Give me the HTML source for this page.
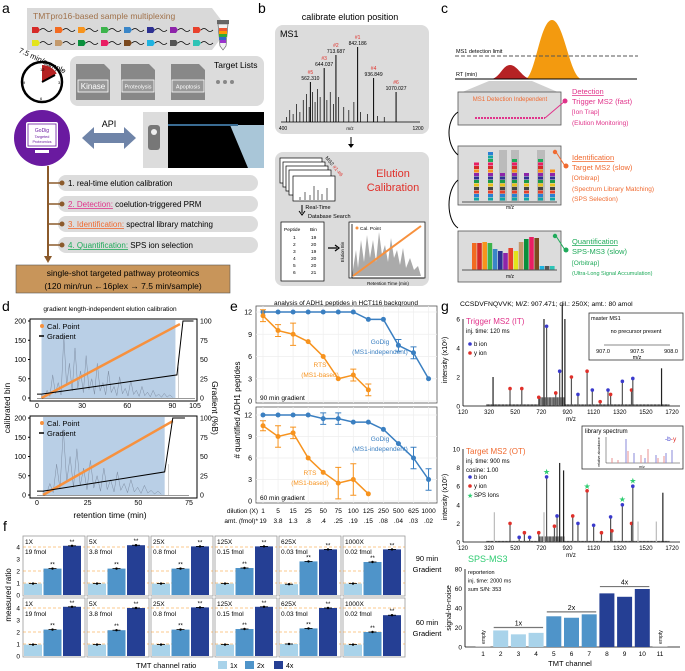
<!DOCTYPE html>
<html><head><meta charset="utf-8">
<style>
html,body{margin:0;padding:0;background:#fff;}
svg{display:block;font-family:"Liberation Sans",sans-serif;}
</style></head>
<body>
<svg id="fig" width="685" height="671" viewBox="0 0 685 671" xmlns="http://www.w3.org/2000/svg">
<g>
<text x="2" y="13" font-size="14">a</text>
<path d="M27,8 L212,8 L228,29 L212,50 L27,50 Z" fill="#d9d9d9"/>
<text x="33" y="19" font-size="8.5" fill="#a0714a">TMTpro16-based sample multiplexing</text>
<g id="tags"></g>
<g><rect x="217" y="20" width="12" height="4" fill="#666"/><path d="M218,24 L228,24 L226,46 L223,50 L220,46 Z" fill="#f0f0f0" stroke="#555" stroke-width="0.6"/><rect x="219" y="28" width="8" height="3" fill="#e53"/><rect x="219" y="31" width="8" height="3" fill="#f90"/><rect x="219" y="34" width="8" height="3" fill="#3a3"/><rect x="219" y="37" width="7" height="3" fill="#36c"/><rect x="220" y="40" width="6" height="3" fill="#93c"/></g>
<g><circle cx="42" cy="82" r="20" fill="#fff" stroke="#000" stroke-width="2.5"/><path d="M42,82 L42,65 A17,17 0 0 1 56.7,73.5 Z" fill="#b52020"/><line x1="42" y1="82" x2="55" y2="75" stroke="#000" stroke-width="2"/><text x="40" y="71" font-size="4">12</text><text x="58" y="84" font-size="4">3</text><text x="40" y="100" font-size="4">6</text><text x="23" y="84" font-size="4">9</text></g>
<text x="17" y="62" font-size="7.5" transform="rotate(25 40 60)">7.5 min/sample</text>
<rect x="70" y="56" width="194" height="50" rx="8" fill="#dcdcdc"/>
<text x="214" y="68" font-size="8.5">Target Lists</text>
<circle cx="218" cy="82" r="2" fill="#888"/><circle cx="225" cy="82" r="2" fill="#888"/><circle cx="232" cy="82" r="2" fill="#888"/>
<g><path d="M76,64 L104,64 L110,70 L110,100 L76,100 Z" fill="#888"/><rect x="78" y="80" width="30" height="12" fill="#999" stroke="#fff" stroke-width="0.8"/><text x="93" y="89" font-size="8" fill="#fff" text-anchor="middle">Kinase</text></g>
<g><path d="M121,64 L149,64 L155,70 L155,100 L121,100 Z" fill="#888"/><rect x="122" y="80" width="32" height="12" fill="#999" stroke="#fff" stroke-width="0.8"/><text x="138" y="88.5" font-size="5.5" fill="#fff" text-anchor="middle">Proteolysis</text></g>
<g><path d="M171,64 L199,64 L205,70 L205,100 L171,100 Z" fill="#888"/><rect x="172" y="80" width="32" height="12" fill="#999" stroke="#fff" stroke-width="0.8"/><text x="188" y="88.5" font-size="5.5" fill="#fff" text-anchor="middle">Apoptosis</text></g>
<g><circle cx="42" cy="138" r="28" fill="#6a1aa0"/><rect x="26" y="122" width="32" height="26" fill="#fff" rx="2"/><rect x="28" y="124" width="28" height="22" fill="none" stroke="#6a1aa0" stroke-width="0.8"/><text x="42" y="132" font-size="5" fill="#6a1aa0" text-anchor="middle">GoDig</text><text x="42" y="138" font-size="3.8" fill="#6a1aa0" text-anchor="middle">Targeted</text><text x="42" y="143" font-size="3.8" fill="#6a1aa0" text-anchor="middle">Proteomics</text><rect x="35" y="150" width="14" height="3" fill="#fff"/></g>
<path d="M82,138 L94,127 L94,133 L124,133 L124,127 L136,138 L124,149 L124,143 L94,143 L94,149 Z" fill="#6f84a8"/>
<text x="109" y="127" font-size="9" text-anchor="middle">API</text>
<g><rect x="143" y="112" width="121" height="56" fill="#dcdcdc"/><rect x="148" y="125" width="12" height="25" rx="3" fill="#777"/><circle cx="154" cy="132" r="3" fill="#eee"/><rect x="168" y="112" width="96" height="56" fill="#000"/><path d="M230,125 L264,125 L264,168 L248,168 Z" fill="#a9c6d8"/><rect x="168" y="124" width="70" height="2" fill="#3a6c93"/></g>
<line x1="48" y1="166" x2="48" y2="258" stroke="#8b5a2b" stroke-width="2"/>
<path d="M44,256 L52,256 L48,263 Z" fill="#8b5a2b"/>
<g>
<rect x="58" y="175" width="200" height="16" rx="8" fill="#dcdcdc"/><line x1="48" y1="183" x2="62" y2="183" stroke="#8b5a2b" stroke-width="1.5"/><circle cx="62" cy="183" r="2.5" fill="#8b5a2b"/>
<text x="68" y="186" font-size="8">1. real-time elution calibration</text>
<rect x="58" y="196" width="200" height="16" rx="8" fill="#dcdcdc"/><line x1="48" y1="204" x2="62" y2="204" stroke="#8b5a2b" stroke-width="1.5"/><circle cx="62" cy="204" r="2.5" fill="#8b5a2b"/>
<text x="68" y="207" font-size="8"><tspan fill="#e0338a" text-decoration="underline">2. Detection:</tspan> coelution-triggered PRM</text>
<rect x="58" y="216" width="200" height="16" rx="8" fill="#dcdcdc"/><line x1="48" y1="224" x2="62" y2="224" stroke="#8b5a2b" stroke-width="1.5"/><circle cx="62" cy="224" r="2.5" fill="#8b5a2b"/>
<text x="68" y="227" font-size="8"><tspan fill="#f06a30" text-decoration="underline">3. Identification:</tspan> spectral library matching</text>
<rect x="58" y="237" width="200" height="16" rx="8" fill="#dcdcdc"/><line x1="48" y1="245" x2="62" y2="245" stroke="#8b5a2b" stroke-width="1.5"/><circle cx="62" cy="245" r="2.5" fill="#8b5a2b"/>
<text x="68" y="248" font-size="8"><tspan fill="#1faa5a" text-decoration="underline">4. Quantification:</tspan> SPS ion selection</text>
</g>
<rect x="16" y="265" width="214" height="28" fill="#c8955a" stroke="#555" stroke-width="0.6"/>
<text x="123" y="276" font-size="8.5" text-anchor="middle">single-shot targeted pathway proteomics</text>
<text x="123" y="289" font-size="8.5" text-anchor="middle">(120 min/run ←16plex → 7.5 min/sample)</text>
</g>

<g>
<text x="258" y="13" font-size="14">b</text>
<text x="350" y="20" font-size="9" text-anchor="middle">calibrate elution position</text>
<rect x="275" y="25" width="154" height="109" rx="8" fill="#dcdcdc"/>
<text x="280" y="37" font-size="9">MS1</text>
<g id="ms1spec"></g>
<text x="283" y="130" font-size="5" text-anchor="middle">400</text><text x="418" y="130" font-size="5" text-anchor="middle">1200</text><text x="350" y="130" font-size="4.5" text-anchor="middle">m/z</text>
<line x1="351" y1="137" x2="351" y2="146" stroke="#000" stroke-width="1"/><path d="M348,144 L354,144 L351,148 Z"/>
<rect x="275" y="152" width="154" height="134" rx="8" fill="#dcdcdc"/>
<text x="393" y="177" font-size="11" fill="#e0302a" text-anchor="middle">Elution</text>
<text x="393" y="191" font-size="11" fill="#e0302a" text-anchor="middle">Calibration</text>
<g>
<rect x="280" y="158" width="42" height="25" fill="#fff" stroke="#000" stroke-width="0.7"/>
<rect x="283" y="162" width="42" height="25" fill="#fff" stroke="#000" stroke-width="0.7"/>
<rect x="286" y="166" width="42" height="25" fill="#fff" stroke="#000" stroke-width="0.7"/>
<rect x="289" y="170" width="42" height="25" fill="#fff" stroke="#000" stroke-width="0.7"/>
<rect x="293" y="176" width="42" height="25" fill="#fff" stroke="#000" stroke-width="0.7"/>
<path d="M300,200 v-3 M305,200 v-8 M310,200 v-5 M314,200 v-14 M318,200 v-10 M322,200 v-6 M327,200 v-12" stroke="#666" stroke-width="1"/>
<text x="325" y="158" font-size="5" transform="rotate(50 325 158)">MS2 <tspan fill="#e0302a">#1-#6</tspan></text>
</g>
<text x="318" y="209" font-size="5.5" text-anchor="middle">Real-Time</text>
<text x="308" y="218" font-size="5.5">Database Search</text>
<path d="M302,205 v8 M299,211 L302,215 L305,211" stroke="#000" fill="none"/>
<g>
<rect x="281" y="222" width="43" height="59" fill="#fff" stroke="#000" stroke-width="0.7"/>
<text x="284" y="231" font-size="4.8">Peptide</text><text x="310" y="231" font-size="4.8">Bin</text>
<text x="293" y="239" font-size="4.8">1</text><text x="311" y="239" font-size="4.8">19</text>
<text x="293" y="246" font-size="4.8">2</text><text x="311" y="246" font-size="4.8">20</text>
<text x="293" y="253" font-size="4.8">3</text><text x="311" y="253" font-size="4.8">19</text>
<text x="293" y="260" font-size="4.8">4</text><text x="311" y="260" font-size="4.8">20</text>
<text x="293" y="267" font-size="4.8">5</text><text x="311" y="267" font-size="4.8">20</text>
<text x="293" y="274" font-size="4.8">6</text><text x="311" y="274" font-size="4.8">21</text>
</g>
<path d="M328,248 L337,248 M335,245 L339,248 L335,251" stroke="#000" fill="none" stroke-width="1.2"/>
<g>
<rect x="349" y="222" width="76" height="56" fill="#fff" stroke="#000" stroke-width="0.7"/>
<path d="M352,276 L356,250 L358,268 L361,240 L364,262 L367,235 L370,258 L373,240 L376,262 L379,232 L382,255 L385,245 L388,262 L391,238 L394,258 L397,250 L400,265 L403,248 L406,268 L410,258 L414,270 L418,266 L421,276 Z" fill="#aaa"/>
<line x1="353" y1="276" x2="421" y2="226" stroke="#f7913e" stroke-width="2"/>
<circle cx="357" cy="228" r="1.5" fill="#f7913e"/><text x="360" y="230" font-size="4.8">Cal. Point</text>
<path d="M352,278 L352,224 M352,278 L424,278" stroke="#000" stroke-width="0.8"/>
<text x="344" y="252" font-size="4.3" transform="rotate(-90 344 252)" text-anchor="middle">Elution Bin</text>
<text x="388" y="285" font-size="4.5" text-anchor="middle">Retention Time (min)</text>
</g>
</g>

<g>
<text x="441" y="13" font-size="14">c</text>
<path d="M525,79 C535,79 540,20 552,20 C564,20 570,79 582,79 Z" fill="#f39a0f"/>
<path d="M490,79 C500,79 502,65 510,65 C518,65 522,79 532,79 Z" fill="#b52224"/>
<line x1="455" y1="56" x2="638" y2="56" stroke="#555" stroke-dasharray="4,2" stroke-width="1"/>
<line x1="455" y1="79" x2="637" y2="79" stroke="#000" stroke-width="1"/>
<text x="456" y="53" font-size="5.5">MS1 detection limit</text>
<text x="456" y="76" font-size="5.5">RT (min)</text>
<path d="M510,81 v8 M507,87 L510,91 L513,87" stroke="#000" fill="none" stroke-width="1"/>
<path d="M489,81 L532,81 L560,93 L460,93 Z" fill="#d0d0d0"/>
<rect x="458" y="92" width="103" height="33" fill="#dcdcdc" stroke="#555" stroke-width="0.8"/>
<text x="510" y="101" font-size="6" fill="#f06a30" text-anchor="middle">MS1 Detection Independent</text>
<line x1="475" y1="118" x2="545" y2="118" stroke="#e0338a" stroke-width="2" stroke-dasharray="2,1"/>
<line x1="545" y1="118" x2="565" y2="101" stroke="#e0338a"/><circle cx="565" cy="101" r="2.5" fill="#e0338a"/>
<g font-size="7.5" fill="#e0338a"><text x="572" y="94" text-decoration="underline">Detection</text><text x="572" y="104">Trigger MS2 (fast)</text><text x="572" y="114" font-size="6.5">[Ion Trap]</text><text x="572" y="125" font-size="6.5">(Elution Monitoring)</text></g>
<rect x="458" y="146" width="103" height="59" fill="#dcdcdc" stroke="#555" stroke-width="0.8"/>
<g id="idbars"></g>
<line x1="462" y1="202" x2="557" y2="202" stroke="#555"/><text x="510" y="209" font-size="5" text-anchor="middle">m/z</text>
<line x1="556" y1="152" x2="565" y2="166" stroke="#f06a30"/><circle cx="555" cy="152" r="2.2" fill="#f06a30"/><circle cx="566" cy="166" r="2.5" fill="#f06a30"/>
<g font-size="7.5" fill="#f06a30"><text x="572" y="160" text-decoration="underline">Identification</text><text x="572" y="170">Target MS2 (slow)</text><text x="572" y="180" font-size="6.5">[Orbitrap]</text><text x="572" y="191" font-size="6.5">(Spectrum Library Matching)</text><text x="572" y="201" font-size="6.5">(SPS Selection)</text></g>
<rect x="458" y="231" width="103" height="51" fill="#dcdcdc" stroke="#555" stroke-width="0.8"/>
<g id="qbars"></g>
<line x1="462" y1="270" x2="557" y2="270" stroke="#555"/><text x="510" y="278" font-size="5" text-anchor="middle">m/z</text>
<line x1="556" y1="236" x2="565" y2="250" stroke="#1faa5a"/><circle cx="555" cy="236" r="2.2" fill="#1faa5a"/><circle cx="566" cy="250" r="2.5" fill="#1faa5a"/>
<g font-size="7.5" fill="#1faa5a"><text x="572" y="244" text-decoration="underline">Quantification</text><text x="572" y="254">SPS-MS3 (slow)</text><text x="572" y="265" font-size="6.5">[Orbitrap]</text><text x="572" y="275" font-size="5.5">(Ultra-Long Signal Accumulation)</text></g>
<path d="M458,112 C446,120 446,145 458,155 M458,180 C446,190 446,220 458,228" stroke="#000" fill="none" stroke-width="1"/>
</g>

<g>
<text x="2" y="311" font-size="14">d</text>
<text x="110" y="311" font-size="6.5" text-anchor="middle">gradient length-independent elution calibration</text>
<g id="dplots"></g>
<text x="110" y="518" font-size="8.5" text-anchor="middle">retention time (min)</text>
<text x="10" y="408" font-size="8.5" text-anchor="middle" transform="rotate(-90 10 408)">calibrated bin</text>
<text x="212" y="408" font-size="8.5" text-anchor="middle" transform="rotate(90 212 408)">Gradient (%B)</text>
</g>

<g>
<text x="230" y="311" font-size="14">e</text>
<text x="346" y="305" font-size="6.5" text-anchor="middle">analysis of ADH1 peptides in HCT116 background</text>
<g id="eplots"></g>
<text x="240" y="410" font-size="8" text-anchor="middle" transform="rotate(-90 240 410)"># quantified ADH1 peptides</text>
</g>

<g>
<text x="3" y="531" font-size="14">f</text>
<g id="fplots"></g>
<text x="11" y="595" font-size="8" text-anchor="middle" transform="rotate(-90 11 595)">measured ratio</text>
<text x="427" y="561" font-size="7.5" text-anchor="middle">90 min</text><text x="427" y="572" font-size="7.5" text-anchor="middle">Gradient</text>
<text x="427" y="625" font-size="7.5" text-anchor="middle">60 min</text><text x="427" y="636" font-size="7.5" text-anchor="middle">Gradient</text>
<g>
<text x="136" y="668" font-size="7.5">TMT channel ratio</text>
<rect x="218" y="661" width="9" height="8" fill="#a9d3ea"/><text x="230" y="668" font-size="7">1x</text>
<rect x="245" y="661" width="9" height="8" fill="#4f94c9"/><text x="257" y="668" font-size="7">2x</text>
<rect x="274" y="661" width="9" height="8" fill="#253f94"/><text x="286" y="668" font-size="7">4x</text>
</g>
</g>

<g>
<text x="441" y="311" font-size="14">g</text>
<text x="460" y="306" font-size="6.8">CCSDVFNQVVK; M/Z: 907.471; dil.: 250X; amt.: 80 amol</text>
<g id="gplots"></g>
<g>
<rect x="589" y="313" width="94" height="47" fill="#fff" stroke="#333" stroke-width="0.8"/>
<text x="591" y="320" font-size="5.5">master MS1</text>
<text x="636" y="333" font-size="5.5" text-anchor="middle">no precursor present</text>
<line x1="604" y1="345" x2="670" y2="345" stroke="#888"/>
<text x="603" y="353" font-size="5.5" text-anchor="middle">907.0</text><text x="637" y="353" font-size="5.5" text-anchor="middle">907.5</text><text x="671" y="353" font-size="5.5" text-anchor="middle">908.0</text>
<text x="637" y="359" font-size="5.5" text-anchor="middle">m/z</text>
</g>
<g>
<rect x="582" y="426" width="101" height="43" fill="#fff" stroke="#333" stroke-width="0.8"/>
<text x="585" y="433" font-size="6">library spectrum</text>
<text x="665" y="441" font-size="6.5"><tspan fill="#3a3acc">-b</tspan><tspan fill="#e0302a">-y</tspan></text>
<line x1="606" y1="437" x2="606" y2="463" stroke="#333" stroke-width="0.5"/>
<line x1="606" y1="463" x2="680" y2="463" stroke="#333" stroke-width="0.5"/>
<path d="M612,463 v-5 M618,463 v-3 M628,463 v-12 M634,463 v-6 M641,463 v-8 M648,463 v-14 M658,463 v-5 M664,463 v-7" stroke="#e89090" stroke-width="1"/>
<path d="M626,463 v-24 M634,463 v-10 M645,463 v-5 M656,463 v-8 M666,463 v-10 M672,463 v-13" stroke="#8a8ad8" stroke-width="1"/>
<text x="600" y="452" font-size="3.5" text-anchor="middle" transform="rotate(-90 600 452)">relative abundance</text>
<text x="642" y="468" font-size="3.5" text-anchor="middle">m/z</text>
</g>
</g>
</svg>

<script>
const tagColors=["#d62a27","#f26b21","#f7941d","#3cb44b","#3a86c8","#2e3192","#8e24aa","#e8412c","#e3e41a","#c49a6c","#0a8f3c","#e91e63","#7b4a1f","#1fb3e0","#555555","#2ec4b6"];
const ms1Mz=[562.31,644.037,713.687,842.186,936.849,1070.027];
const ms1Int=[40,54,67,75,44,30];
const ms1Lbl=["#5","#3","#2","#1","#4","#6"];
const dSeriesTopCal=[[3,0],[95,192]];
const dSeriesTopGrad=[[0,5],[3,5],[93,30],[97,100],[104,100]];
const dSeriesBotCal=[[3,0],[67,192]];
const dSeriesBotGrad=[[0,5],[3,5],[63,30],[67,100],[73,100]];
const dTopChrom=[8,20,60,40,160,90,130,70,110,50,90,40,70,30,55,25,45,20,30,15,20,10,12,8];
const dBotChrom=[10,30,80,170,100,120,70,90,50,70,40,60,30,40,20,25,12,10];
const eDilution=["1","5","15","25","50","75","100","125","250","500","625","1000"];
const eAmount=["19","3.8","1.3",".8",".4",".25",".19",".15",".08",".04",".03",".02"];
const eGoDig90=[12,12,12,12,12,12,12,11,11,7.5,6.5,3];
const eGoDig90Err=[0,0,0,0,0,0,0,0,0,0.8,0.8,0];
const eRTS90=[11.5,9.5,9,8,6,3,3.5,1.5];
const eRTS90Err=[0.8,0.8,1.5,0,0,0,0.8,0.8];
const eGoDig60=[12,12,12,12,11.5,11.5,11,11,10,8,6,3];
const eGoDig60Err=[0,0,0,0,0.8,0.8,0,0,0,0,1.5,1.5];
const eRTS60=[10.5,9,9.5,6,4,2.5,3,1];
const eRTS60Err=[0.7,1.5,0.8,0,0,2.2,2.2,0];
const fLabels=["1X","5X","25X","125X","625X","1000X"];
const fAmounts=["19 fmol","3.8 fmol","0.8 fmol","0.15 fmol","0.03 fmol","0.02 fmol"];
const f90_1x=[0.95,0.95,0.95,0.95,0.9,0.95];
const f90_2x=[2.2,2.2,2.2,2.25,2.8,2.75];
const f90_4x=[4.1,4.15,4.05,4.05,3.8,3.8];
const f60_1x=[0.95,0.95,0.95,0.95,1.0,0.95];
const f60_2x=[2.2,2.15,2.2,2.25,2.3,2.0];
const f60_4x=[4.1,4.0,4.05,4.1,4.0,3.4];
const fTicks=[0,1,2,3,4];
const trigMz=[350,480,570,700,740,760,830,860,880,900,950,1000,1070,1110,1170,1230,1250,1340,1410,1420,1640];
const trigInt=[2.0,1.2,1.2,0.6,6,5.5,0.9,2.4,7,6,2.0,0.8,2.4,1.1,0.3,1.1,0.8,1.7,1.1,1.9,2.6];
const trigIon=["k","y","y","y","k","b","y","b","k","k","y","b","y","b","y","b","y","b","y","b","k"];
const targMz=[360,480,550,590,630,700,740,760,820,840,860,890,960,1000,1070,1120,1180,1250,1260,1340,1410,1420,1460,1600,1650];
const targInt=[3.2,2.0,0.5,1.0,0.5,1.0,3.2,7,1.7,2.8,8.5,7.7,2.8,2.0,5.5,1.8,1.0,2.7,1.2,4.0,2.0,6.0,2.2,2.2,5.3];
const targIon=["g","y","b","y","b","y","g","b","y","b","k","k","y","b","y","b","y","b","y","b","y","b","g","g","k"];
const spsStarMz=[760,1070,1340,1420];
const spsStarInt=[7.6,6.0,4.6,6.6];
const spsChannels=["1","2","3","4","5","6","7","8","9","10","11"];
const spsValues=[1,17,13,14.5,31.5,30,33.5,55,51.5,59.5,1];
const mzTicks=[120,320,520,720,920,1120,1320,1520,1720];

const NS="http://www.w3.org/2000/svg";
function mk(tag,attrs,parent,text){const e=document.createElementNS(NS,tag);for(const k in attrs)e.setAttribute(k,attrs[k]);if(text!==undefined)e.textContent=text;parent.appendChild(e);return e;}

const tags=document.getElementById('tags');
for(let i=0;i<16;i++){const r=i<8?0:1,c=i%8;const x=32+c*23,y=27+r*13;
 const t=mk('path',{d:`M${x},${y} l6,0 l2,3 l-2,3 l-6,0 z`,fill:tagColors[i]},tags);
 
 
 mk('path',{d:`M${x+8},${y+3} q3,-3 6,0 t6,0`,stroke:'#000',fill:'none','stroke-width':0.8},tags);}

const ms1=document.getElementById('ms1spec');
const xMs1=m=>283+(m-400)/800*135, yMs1=v=>122-v;
mk('line',{x1:281,y1:122,x2:420,y2:122,stroke:'#000','stroke-width':0.8},ms1);
const ms1bg=[[420,5],[440,12],[460,8],[480,18],[500,10],[520,22],[540,28],[555,15],[575,30],[590,20],[605,33],[620,25],[660,22],[680,30],[700,18],[730,25],[760,15],[790,12],[820,20],[860,10],[900,8],[960,6],[1000,5]];
ms1bg.forEach(p=>mk('line',{x1:xMs1(p[0]),y1:122,x2:xMs1(p[0]),y2:yMs1(p[1]),stroke:'#000','stroke-width':0.7},ms1));
ms1Mz.forEach((m,i)=>{const l=mk('line',{x1:xMs1(m),y1:122,x2:xMs1(m),y2:yMs1(ms1Int[i]),stroke:'#000','stroke-width':1},ms1);
 
 
 mk('text',{x:xMs1(m),y:yMs1(ms1Int[i])-8,'font-size':5,fill:'#e0302a','text-anchor':'middle'},ms1,ms1Lbl[i]);
 mk('text',{x:xMs1(m),y:yMs1(ms1Int[i])-2,'font-size':5,'text-anchor':'middle'},ms1,m.toFixed(3));});

const rb=["#12a5a5","#2a7fd4","#e3412c","#444","#e8c21a","#1a9a4a","#2e3192","#8e24aa","#f7941d","#d62a27","#e91e63","#1faa5a"];
const idb=document.getElementById('idbars');
const idX=[475,489,501,513,525,539,551],idH=[38,50,27,43,27,43,32],idGray=[0,0,1,1,0,1,0];
idX.forEach((x,i)=>{if(idGray[i])mk('rect',{x:x-2,y:150,width:8,height:51,fill:'#bbb'},idb);
 const n=Math.round(idH[i]/3.5);for(let k=0;k<n;k++)mk('rect',{x:x-1,y:201-(k+1)*3.5,width:5,height:3,fill:rb[k%rb.length]},idb);});
const qb=document.getElementById('qbars');
const qc=["#f26b21","#d62a27","#f7941d","#3cb44b","#3a86c8","#2e3192","#8e24aa","#e8412c","#e3e41a","#c49a6c","#0a8f3c","#e91e63","#7b4a1f","#1fb3e0","#555","#2ec4b6"];
const qh=[27,27,28,27,21,19,17,22,19,28,31,33,32,4,4,4];
qh.forEach((h,i)=>mk('rect',{x:472+i*5.2,y:270-h,width:4.6,height:h,fill:qc[i]},qb));

const dp=document.getElementById('dplots');
function dPlot(y0,y1,xmax,xticks,cal,grad,chrom,blueEnd){
 const X=v=>37+v/xmax*(xmax==105?158:152), Y=v=>y1-v/200*(y1-y0), Y2=v=>y1-v/100*(y1-y0);
 mk('rect',{x:30,y:y0-2,width:167,height:y1-y0+5,fill:'#fff',stroke:'#000','stroke-width':1},dp);
 mk('rect',{x:X(3),y:y0-1,width:X(blueEnd)-X(3),height:y1-y0+1,fill:'#b9cfe6'},dp);
 let d='M'+X(3)+','+y1;chrom.forEach((v,i)=>{const xx=3+i*(blueEnd-3)/chrom.length;d+=` L${X(xx)},${Y(v)} L${X(xx+(blueEnd-3)/chrom.length/2)},${Y(v*0.2)}`});
 mk('path',{d:d,fill:'none',stroke:'#7f8ea3','stroke-width':0.5},dp);
 mk('line',{x1:X(blueEnd+2),y1:y1,x2:X(blueEnd+2),y2:Y(80),stroke:'#aaa','stroke-width':0.6},dp);
 const cl=mk('line',{x1:X(cal[0][0]),y1:Y(cal[0][1]),x2:X(cal[1][0]),y2:Y(cal[1][1]),stroke:'#f7913e','stroke-width':2.5},dp);
 
 
 const gl=mk('polyline',{points:grad.map(p=>X(p[0])+','+Y2(p[1])).join(' '),fill:'none',stroke:'#000','stroke-width':1},dp);
 
 
 mk('line',{x1:X(0),y1:y1+0.5,x2:X(xmax),y2:y1+0.5,stroke:'#333','stroke-width':0.6},dp);
 [0,50,100,150,200].forEach(t=>{mk('text',{x:26,y:Y(t)+2.5,'font-size':7,'text-anchor':'end'},dp,t);mk('line',{x1:28,y1:Y(t),x2:30,y2:Y(t),stroke:'#000'},dp);});
 [0,25,50,75,100].forEach(t=>{mk('text',{x:200,y:Y2(t)+2.5,'font-size':7},dp,t);});
 xticks.forEach(t=>mk('text',{x:X(t),y:y1+10,'font-size':7,'text-anchor':'middle'},dp,t));
 mk('circle',{cx:42,cy:y0+5,r:2,fill:'#f7913e'},dp);mk('text',{x:47,y:y0+8,'font-size':7.5},dp,'Cal. Point');
 mk('line',{x1:39,y1:y0+15,x2:44,y2:y0+15,stroke:'#000','stroke-width':1.5},dp);mk('text',{x:47,y:y0+18,'font-size':7.5},dp,'Gradient');
}
dPlot(321,398,105,[0,30,60,90,105],dSeriesTopCal,dSeriesTopGrad,dTopChrom,92);
dPlot(418,495,75,[0,25,50,75],dSeriesBotCal,dSeriesBotGrad,dBotChrom,63);

const ep=document.getElementById('eplots');
const xE=i=>263+i*15.05;
function ePlot(top,bot,y0,y1,gd,gdE,rt,rtE,lbl){
 const Y=v=>y1-v/12*(y1-y0);
 mk('rect',{x:256,y:top,width:181,height:bot-top,fill:'#fff',stroke:'#555','stroke-width':0.8},ep);
 eDilution.forEach((d,i)=>mk('line',{x1:xE(i),y1:top,x2:xE(i),y2:bot,stroke:'#eee','stroke-width':0.7},ep));
 [0,3,6,9,12].forEach(t=>{mk('line',{x1:256,y1:Y(t),x2:437,y2:Y(t),stroke:'#eee','stroke-width':0.7},ep);mk('text',{x:252,y:Y(t)+2.5,'font-size':7,'text-anchor':'end'},ep,t);});
 function series(vals,errs,col,name){
  mk('polyline',{points:vals.map((v,i)=>xE(i)+','+Y(v)).join(' '),fill:'none',stroke:col,'stroke-width':1.5},ep);
  vals.forEach((v,i)=>{if(errs[i]>0){mk('path',{d:`M${xE(i)},${Y(v+errs[i])} V${Y(v-errs[i])} M${xE(i)-3},${Y(v+errs[i])} h6 M${xE(i)-3},${Y(v-errs[i])} h6`,stroke:col,'stroke-width':1,fill:'none'},ep);}
   const c=mk('circle',{cx:xE(i),cy:Y(v),r:2.5,fill:col},ep);
   
   });
 }
 series(gd,gdE,'#3a7fc1','godig');series(rt,rtE,'#f7931e','rts');
 mk('text',{x:260,y:bot-3,'font-size':6.5},ep,lbl);
}
ePlot(306,403,312,401,eGoDig90,eGoDig90Err,eRTS90,eRTS90Err,'90 min gradient');
ePlot(407,503,415,501,eGoDig60,eGoDig60Err,eRTS60,eRTS60Err,'60 min gradient');
[[380,344,'GoDig'],[380,354,'(MS1-independent)'],[320,367,'RTS'],[320,377,'(MS1-based)']].forEach((t,i)=>mk('text',{x:t[0],y:t[1],'font-size':6.5,fill:i<2?'#3a7fc1':'#f7931e','text-anchor':'middle'},ep,t[2]));
[[380,441,'GoDig'],[380,451,'(MS1-independent)'],[310,475,'RTS'],[310,485,'(MS1-based)']].forEach((t,i)=>mk('text',{x:t[0],y:t[1],'font-size':6.5,fill:i<2?'#3a7fc1':'#f7931e','text-anchor':'middle'},ep,t[2]));
mk('text',{x:258,y:513,'font-size':6.5,'text-anchor':'end'},ep,'dilution (X)');
mk('text',{x:258,y:523,'font-size':6.5,'text-anchor':'end'},ep,'amt. (fmol)*');
eDilution.forEach((d,i)=>{mk('text',{x:xE(i),y:513,'font-size':6.5,'text-anchor':'middle'},ep,d);mk('text',{x:xE(i),y:523,'font-size':6.5,'text-anchor':'middle'},ep,eAmount[i]);});

const fp=document.getElementById('fplots');
const fCols=['#a9d3ea','#4f94c9','#253f94'];
function fRow(top,bot,base,v1,v2,v4){
 const Y=v=>base-v*12;
 fTicks.forEach(t=>mk('text',{x:20,y:Y(t)+2.5,'font-size':6.5,'text-anchor':'end'},fp,t));
 fLabels.forEach((l,p)=>{const x0=23+p*64;
  mk('rect',{x:x0,y:top,width:62,height:bot-top,fill:'#fff',stroke:'#999','stroke-width':0.8},fp);
  [1,2,4].forEach(t=>mk('line',{x1:x0,y1:Y(t),x2:x0+62,y2:Y(t),stroke:'#f7931e','stroke-dasharray':'3,2','stroke-width':0.6},fp));
  [v1[p],v2[p],v4[p]].forEach((v,k)=>{const bx=x0+1+k*19.5;
   const r=mk('rect',{x:bx,y:Y(v),width:18,height:base-Y(v),fill:fCols[k]},fp);
   
   
   mk('path',{d:`M${bx+5},${Y(v)} h8`,stroke:'#000','stroke-width':0.8},fp);
   mk('circle',{cx:bx+9,cy:Y(v),r:1.2,fill:'#000'},fp);
   if(k>0)mk('text',{x:bx+9,y:Y(v)-2,'font-size':6,'text-anchor':'middle'},fp,'**');});
  mk('text',{x:x0+2,y:top+8,'font-size':6.5},fp,l);
  mk('text',{x:x0+2,y:top+18,'font-size':6.5},fp,fAmounts[p]);
 });
}
fRow(536,596,595,f90_1x,f90_2x,f90_4x);
fRow(598,657,656,f60_1x,f60_2x,f60_4x);

const gp=document.getElementById('gplots');
const xG=m=>463+(m-120)/1600*209;
function spectrum(y0px,perUnit,yticks,mz,ints,ions,title,titleCol,lines){
 const Y=v=>y0px-v*perUnit;
 mk('line',{x1:463,y1:y0px,x2:680,y2:y0px,stroke:'#000','stroke-width':0.8},gp);
 mk('line',{x1:463,y1:y0px,x2:463,y2:Y(yticks[yticks.length-1]),stroke:'#000','stroke-width':0.8},gp);
 yticks.forEach(t=>mk('text',{x:460,y:Y(t)+2.5,'font-size':6.5,'text-anchor':'end'},gp,t));
 mzTicks.forEach(t=>mk('text',{x:xG(t),y:y0px+8,'font-size':6,'text-anchor':'middle'},gp,t));
 mk('text',{x:571,y:y0px+15,'font-size':6,'text-anchor':'middle'},gp,'m/z');
 for(let m=300;m<1700;m+=6){const base=(m>700&&m<900)?0.6:0.12;mk('line',{x1:xG(m),y1:y0px,x2:xG(m),y2:Y(base),stroke:'#222','stroke-width':0.5},gp);}
 mz.forEach((m,i)=>{const io=ions[i];const col=io=='g'?'#bbb':(io=='k'?'#222':'#555');
  const l=mk('line',{x1:xG(m),y1:y0px,x2:xG(m),y2:Y(ints[i]),stroke:col,'stroke-width':1.2},gp);
  
  
  if(io=='b'||io=='y')mk('circle',{cx:xG(m),cy:Y(ints[i]),r:1.8,fill:io=='b'?'#3a3acc':'#e0302a'},gp);});
 mk('text',{x:466,y:Y(yticks[yticks.length-1])+5,'font-size':8,fill:titleCol},gp,title);
 lines.forEach((t,i)=>mk('text',{x:466,y:Y(yticks[yticks.length-1])+14+i*9,'font-size':6},gp,t));
 return Y;
}
spectrum(406,14.5,[0,2,4,6],trigMz,trigInt,trigIon,'Trigger MS2 (IT)','#e0338a',['inj. time: 120 ms']);
const Yt=spectrum(542,9.3,[0,2,4,6,8,10],targMz,targInt,targIon,'Target MS2 (OT)','#f06a30',['inj. time: 900 ms','cosine: 1.00']);
spsStarMz.forEach((m,i)=>{const s=mk('text',{x:xG(m),y:Yt(spsStarInt[i])+3,'font-size':8,fill:'#2ecc71','text-anchor':'middle'},gp,'★');
 
 });
[[346,'b ion','#3a3acc'],[355,'y ion','#e0302a']].forEach(t=>{mk('circle',{cx:470,cy:t[0]-2,r:1.8,fill:t[2]},gp);mk('text',{x:474,y:t[0],'font-size':6},gp,t[1]);});
[[479,'b ion','#3a3acc'],[488,'y ion','#e0302a']].forEach(t=>{mk('circle',{cx:470,cy:t[0]-2,r:1.8,fill:t[2]},gp);mk('text',{x:474,y:t[0],'font-size':6},gp,t[1]);});
mk('text',{x:467,y:498,'font-size':7,fill:'#2ecc71'},gp,'★');mk('text',{x:474,y:497,'font-size':6},gp,'SPS Ions');
mk('text',{x:447,y:360,'font-size':7,'text-anchor':'middle',transform:'rotate(-90 447 360)'},gp,'intensity (x10⁶)');
mk('text',{x:447,y:497,'font-size':7,'text-anchor':'middle',transform:'rotate(-90 447 497)'},gp,'intensity (x10⁵)');

const xS=i=>483+i*17.7, yS=v=>647-v*(78/80);
mk('text',{x:468,y:562,'font-size':9,fill:'#2ecc71'},gp,'SPS-MS3');
mk('line',{x1:465,y1:647,x2:680,y2:647,stroke:'#000','stroke-width':0.8},gp);
mk('line',{x1:465,y1:647,x2:465,y2:yS(80),stroke:'#000','stroke-width':0.8},gp);
[0,20,40,60,80].forEach(t=>mk('text',{x:462,y:yS(t)+2.5,'font-size':6.5,'text-anchor':'end'},gp,t));
const spsCol=i=>i==0||i==10?'#ccc':(i<4?'#a9d3ea':(i<7?'#4f94c9':'#253f94'));
spsValues.forEach((v,i)=>{const r=mk('rect',{x:xS(i)-7.5,y:yS(v),width:15,height:647-yS(v),fill:spsCol(i)},gp);
 
 
 mk('text',{x:xS(i),y:656,'font-size':6.5,'text-anchor':'middle'},gp,spsChannels[i]);});
mk('text',{x:xS(0)+2,y:637,'font-size':5,transform:`rotate(-90 ${xS(0)+2} 637)`,'text-anchor':'middle'},gp,'empty');
mk('text',{x:xS(10)+2,y:637,'font-size':5,transform:`rotate(-90 ${xS(10)+2} 637)`,'text-anchor':'middle'},gp,'empty');
[[1,3,'1x',20],[4,6,'2x',36],[7,9,'4x',62]].forEach(g=>{mk('line',{x1:xS(g[0])-7,y1:yS(g[3]),x2:xS(g[1])+7,y2:yS(g[3]),stroke:'#777','stroke-width':1.2},gp);mk('text',{x:(xS(g[0])+xS(g[1]))/2,y:yS(g[3])-2,'font-size':7,'text-anchor':'middle'},gp,g[2]);});
mk('text',{x:570,y:666,'font-size':7.5,'text-anchor':'middle'},gp,'TMT channel');
mk('text',{x:451,y:608,'font-size':7,'text-anchor':'middle',transform:'rotate(-90 451 608)'},gp,'signal-to-noise');
['reporterion','inj. time: 2000 ms','sum S/N: 353'].forEach((t,i)=>mk('text',{x:468,y:574+i*8.5,'font-size':5.5},gp,t));
</script>
</body></html>
